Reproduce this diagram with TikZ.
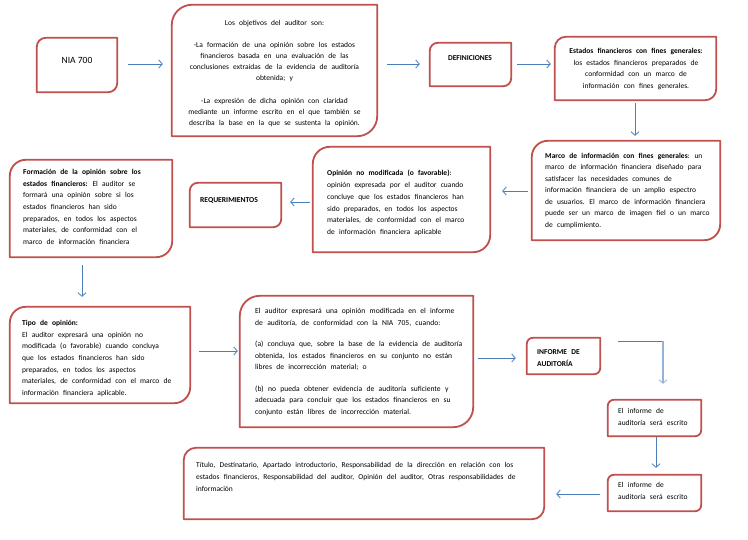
\documentclass[tikz,border=0pt]{standalone}
\usepackage{fontspec}
\setmainfont{Carlito}[WordSpace=2.5]
\newfontfamily\plainfont{Carlito}
\usetikzlibrary{arrows.meta,fit}
\definecolor{bred}{HTML}{C0504D}
\definecolor{ablue}{HTML}{4A7EBB}
\definecolor{lblue}{HTML}{95B3D7}
\tikzset{
 area/.style={inner sep=0pt, draw=none},
 border/.style={draw=bred, line width=1.8pt, line join=round},
 arr/.style={draw=ablue, line width=0.8pt, -{Straight Barb[length=3.5pt,width=8pt,line width=0.8pt]}},
 larr/.style={draw=lblue, line width=1.4pt, -{Straight Barb[length=3.5pt,width=8pt,line width=0.8pt]}},
 seg/.style={draw=ablue, line width=0.8pt},
 txt/.style={inner sep=0pt, anchor=north west, align=left, font=\fontsize{7.5}{11.7}\selectfont},
 ctxt/.style={inner sep=0pt, anchor=north, align=center, font=\fontsize{7.5}{11.7}\selectfont},
}
\newcommand\rbox[6]{%
 \node[area, fit={(#2,#3) (#4,#5)}] (#1) {};
 \draw[border] (#1.south west) -- ([yshift=-#6pt]#1.north west) arc[start angle=180,end angle=90,radius=#6pt] -- (#1.north east) -- ([yshift=#6pt]#1.south east) arc[start angle=0,end angle=-90,radius=#6pt] -- cycle;}
\begin{document}
\begin{tikzpicture}[x=1pt,y=-1pt]
\useasboundingbox[fill=white] (0,0) rectangle (748,540);
% boxes
\rbox{nia}{37}{38}{117}{92}{9}
\rbox{obj}{172}{5}{377}{136}{20}
\rbox{def}{430}{43}{511}{86}{8}
\rbox{est}{555}{37}{716}{100}{11}
\rbox{marco}{532}{141}{720}{240}{16}
\rbox{opin}{313}{147}{490}{252}{17}
\rbox{req}{190}{183}{281}{227}{8}
\rbox{form}{10}{160}{172}{257}{16}
\rbox{tipo}{10}{307}{190}{403}{16}
\rbox{aud}{240}{296}{473}{427}{20}
\rbox{inf}{527}{338}{600}{374}{6}
\rbox{ea}{608}{400}{701}{436}{6}
\rbox{eb}{608}{475}{701}{511}{6}
\rbox{tit}{184}{448}{544}{519}{12}
% texts
\node[inner sep=0pt, font=\plainfont\fontsize{9.5}{11}\selectfont] (niaT) at (77,60) {NIA 700};
\node[ctxt, font=\fontsize{7.5}{11.1}\selectfont] (objT) at (274.5,20) {Los objetivos del auditor son:\\[11pt]
-La formación de una opinión sobre los estados\\
financieros basada en una evaluación de las\\
conclusiones extraídas de la evidencia de auditoría\\
obtenida; y\\[11.5pt]
-La expresión de dicha opinión con claridad\\
mediante un informe escrito en el que también se\\
describa la base en la que se sustenta la opinión.};
\node[inner sep=0pt, font=\fontsize{7.5}{11}\selectfont\bfseries] (defT) at (470,58) {DEFINICIONES};
\node[ctxt] (estT) at (636,48) {\textbf{Estados financieros con fines generales:}\\
los estados financieros preparados de\\
conformidad con un marco de\\
información con fines generales.};
\node[txt, font=\fontsize{7.5}{11.5}\selectfont] (marcoT) at (545,153) {\textbf{Marco de información con fines generales}: un\\
marco de información financiera diseñado para\\
satisfacer las necesidades comunes de\\
información financiera de un amplio espectro\\
de usuarios. El marco de información financiera\\
puede ser un marco de imagen fiel o un marco\\
de cumplimiento.};
\node[txt, font=\fontsize{7.5}{11.8}\selectfont] (opinT) at (327,170) {\textbf{Opinión no modificada (o favorable)}:\\
opinión expresada por el auditor cuando\\
concluye que los estados financieros han\\
sido preparados, en todos los aspectos\\
materiales, de conformidad con el marco\\
de información financiera aplicable};
\node[inner sep=0pt, anchor=west, font=\fontsize{7.6}{11}\selectfont\bfseries] (reqT) at (200,200) {REQUERIMIENTOS};
\node[txt] (formT) at (23,169) {\textbf{Formación de la opinión sobre los}\\
\textbf{estados financieros:} El auditor se\\
formará una opinión sobre si los\\
estados financieros han sido\\
preparados, en todos los aspectos\\
materiales, de conformidad con el\\
marco de información financiera};
\node[txt] (tipoT) at (22,320) {\textbf{Tipo de opinión:}\\
El auditor expresará una opinión no\\
modificada (o favorable) cuando concluya\\
que los estados financieros han sido\\
preparados, en todos los aspectos\\
materiales, de conformidad con el marco de\\
información financiera aplicable.};
\node[txt, font=\fontsize{7.6}{11.6}\selectfont] (audT) at (255,308) {El auditor expresará una opinión modificada en el informe\\
de auditoría, de conformidad con la NIA 705, cuando:\\[9.8pt]
(a) concluya que, sobre la base de la evidencia de auditoría\\
obtenida, los estados financieros en su conjunto no están\\
libres de incorrección material; o\\[9.8pt]
(b) no pueda obtener evidencia de auditoría suficiente y\\
adecuada para concluir que los estados financieros en su\\
conjunto están libres de incorrección material.};
\node[txt, font=\fontsize{7.5}{12}\selectfont\bfseries] (infT) at (537,349) {INFORME DE\\AUDITORÍA};
\node[txt, font=\fontsize{7.5}{12}\selectfont] (eaT) at (618,408) {El informe de\\auditoría será escrito};
\node[txt, font=\fontsize{7.5}{12}\selectfont] (ebT) at (618,482) {El informe de\\auditoría será escrito};
\node[txt, font=\fontsize{7.5}{12}\selectfont] (titT) at (196,462) {Título, Destinatario, Apartado introductorio, Responsabilidad de la dirección en relación con los\\
estados financieros, Responsabilidad del auditor, Opinión del auditor, Otras responsabilidades de\\
información};
% connectors
\draw[arr, shorten <=11pt, shorten >=9pt] (nia.east |- 0,64) -- (obj.west |- 0,64);
\draw[arr, shorten <=10pt, shorten >=10pt] (obj.east |- 0,64) -- (def.west |- 0,64);
\draw[arr, shorten <=6pt, shorten >=4pt] (def.east |- 0,64) -- (est.west |- 0,64);
\draw[arr, shorten <=3pt, shorten >=5pt] (est.south -| 635,0) -- (marco.north -| 635,0);
\draw[arr, shorten <=4pt, shorten >=12pt] (marco.west |- 0,191) -- (opin.east |- 0,191);
\draw[arr, shorten <=3pt, shorten >=9pt] (opin.west |- 0,202) -- (req.east |- 0,202);
\draw[arr, shorten <=8pt, shorten >=10pt] (form.south -| 82,0) -- (tipo.north -| 82,0);
\draw[arr, shorten <=9pt, shorten >=2pt] (tipo.east |- 0,351) -- (aud.west |- 0,351);
\draw[arr, shorten <=5pt, shorten >=11pt] (aud.east |- 0,358) -- (inf.west |- 0,358);
\coordinate (elb) at (663,341);
\draw[seg, shorten <=18pt] (inf.east |- elb) -- (elb);
\draw[larr, shorten >=16pt] (elb) -- (ea.north -| elb);
\draw[arr, shorten <=1pt, shorten >=7pt] (ea.south -| 656,0) -- (eb.north -| 656,0);
\draw[arr, shorten <=8pt, shorten >=12pt] (eb.west |- 0,494) -- (tit.east |- 0,494);
\end{tikzpicture}
\end{document}
